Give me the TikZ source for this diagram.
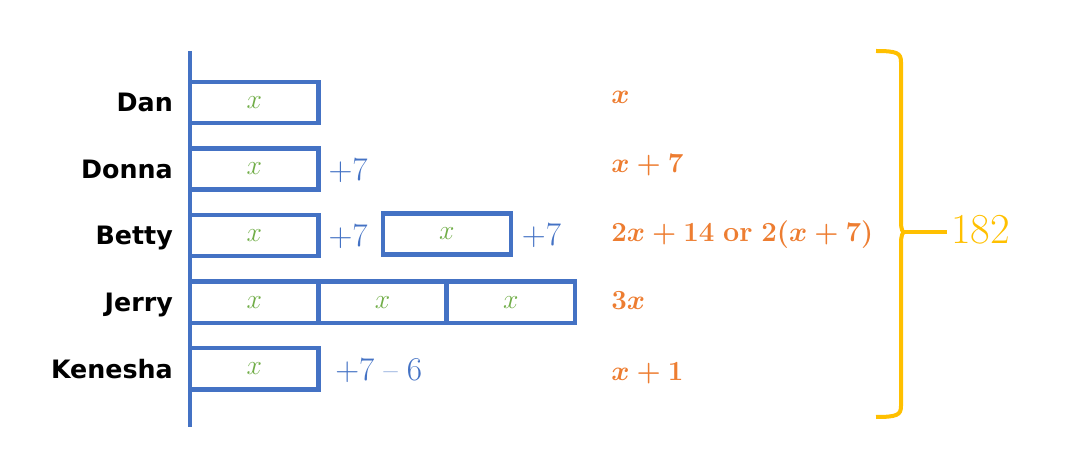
\documentclass[tikz,border=0pt]{standalone}
\usepackage{fontspec}
\usepackage{amsmath}
\usetikzlibrary{positioning}
\newfontfamily\namefont{DejaVu Sans}
\definecolor{barblue}{HTML}{4472C4}
\definecolor{xgreen}{HTML}{70AD47}
\definecolor{exorange}{HTML}{ED7D31}
\definecolor{sumgold}{HTML}{FFC000}

\begin{document}
\begin{tikzpicture}[x=0.75pt,y=-0.75pt,
	bar/.style={draw=barblue, line width=3.3pt, minimum width=96.2pt, minimum height=31pt, inner sep=0pt, outer sep=0pt, text=xgreen, font=\fontsize{22}{25}\selectfont},
	person/.style={font=\namefont\bfseries\fontsize{19}{22}\selectfont, inner sep=0pt, text height=13.9pt, text depth=0pt},
	extra/.style={text=barblue, font=\fontsize{23}{26}\selectfont, inner sep=0pt, text height=17pt, text depth=0pt},
	expr/.style={text=exorange, font=\fontsize{21.6}{24}\selectfont\boldmath, inner sep=0pt, anchor=base west},
	brace/.style={draw=sumgold, line width=3pt, line join=round}]
	\useasboundingbox (0,0) rectangle (1075,463);
	\coordinate (axtop) at (190,51);
	\coordinate (axbot) at (190,427);
	\node [bar] (dan) at (254.2,102.4) {$x$};
	\node [bar] (donna) at (254.2,169) {$x$};
	\node [bar] (betty) at (254.2,235.6) {$x$};
	\node [bar] (jerry) at (254.2,302.2) {$x$};
	\node [bar] (kenesha) at (254.2,368.8) {$x$};
	\node [bar, right=48.3pt of betty, yshift=1.2pt] (bettytwo) {$x$};
	\node [bar, right=0pt of jerry] (jerrytwo) {$x$};
	\node [bar, right=0pt of jerrytwo] (jerrythree) {$x$};
	\draw [line width=3.3pt, barblue] (axtop) -- (axbot);
	\node [person, left=12.75pt of dan] (ndan) {Dan};
	\node [person, left=12.75pt of donna] (ndonna) {Donna};
	\node [person, left=12.75pt of betty] (nbetty) {Betty};
	\node [person, left=12.75pt of jerry] (njerry) {Jerry};
	\node [person, left=12.75pt of kenesha] (nkenesha) {Kenesha};
	\node [extra, right=7.5pt of donna] (pdonna) {$+7$};
	\node [extra, right=7.5pt of betty] (pbetty) {$+7$};
	\node [extra, right=8pt of bettytwo] (pbettytwo) {$+7$};
	\node [extra, right=12.5pt of kenesha] (pkenesha) {$+7$ -- $6$};
	\node [expr] (edan) at (611,103.3) {$x$};
	\node [expr] (edonna) at (611,172.7) {$x+7$};
	\node [expr] (ebetty) at (611,241.7) {$2x+14$ \textbf{or} $2(x+7)$};
	\node [expr] (ejerry) at (611,310) {$3x$};
	\node [expr] (ekenesha) at (611,380) {$x+1$};
	\node [text=sumgold, font=\fontsize{32}{36}\selectfont, inner sep=0pt, anchor=base west] (total) at (951,243.8) {182};
	\coordinate (cusp) at (904,232.3);
	\draw [brace] (876,51) .. controls (897,51) and (901,53) .. (901,62) -- (901,222) .. controls (901,230) and (903,232.3) .. (cusp) .. controls (903,232.3) and (901,235) .. (901,243) -- (901,406) .. controls (901,415) and (897,417) .. (876,417);
	\draw [brace, shorten >=3pt] (cusp) -- (cusp -| total.west);
\end{tikzpicture}
\end{document}
